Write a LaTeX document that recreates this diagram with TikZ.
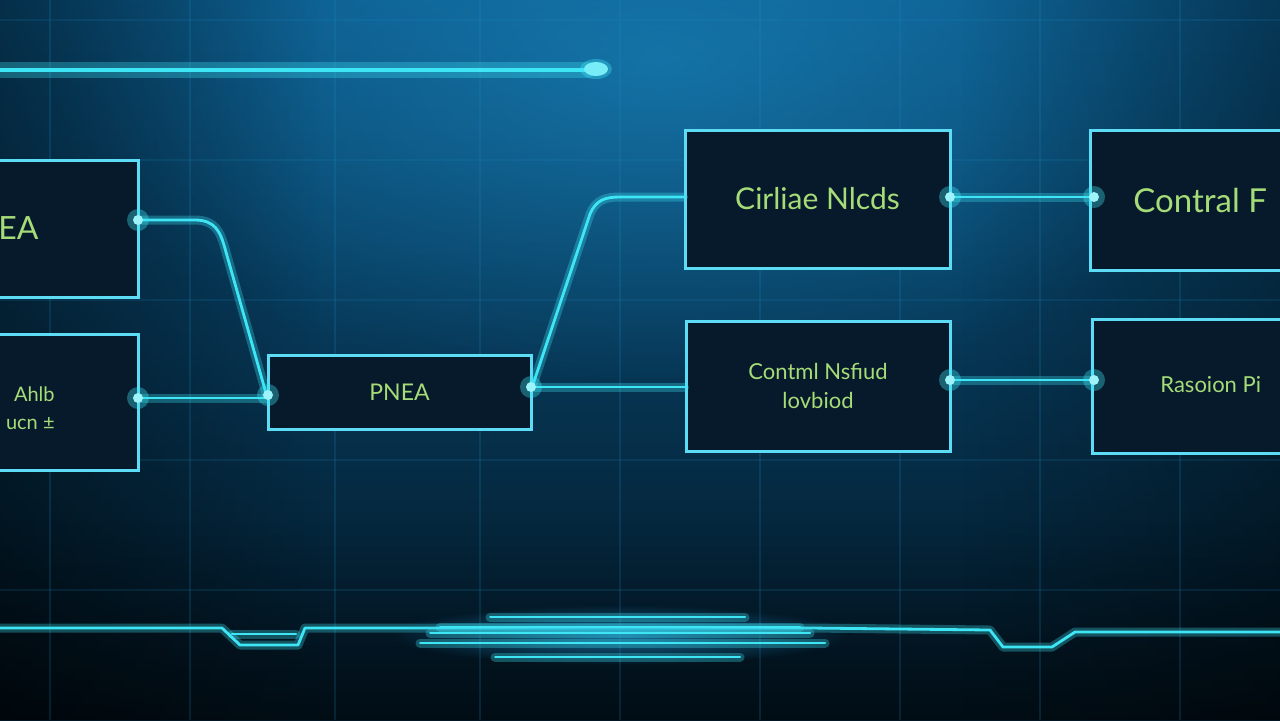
\documentclass[tikz,border=0pt]{standalone}
\usepackage{fontspec}
\setmainfont{Lato}
\usetikzlibrary{fadings}
\definecolor{bgtop}{HTML}{0A5686}
\definecolor{bgbot}{HTML}{031623}
\definecolor{glowc}{HTML}{1E8FC8}
\definecolor{boxfill}{HTML}{071A2C}
\definecolor{boxline}{HTML}{5CDDF5}
\definecolor{wire}{HTML}{3EE6F5}
\definecolor{txt}{HTML}{A5DC78}
\tikzfading[name=softglow, inner color=transparent!0, outer color=transparent!100]
\tikzset{
  panel/.style={draw=boxline, line width=1.5pt, fill=boxfill, inner sep=0pt},
  lbl/.style={text=txt, inner sep=0pt, align=center},
  wirehalo/.style={draw=wire, line width=4.5pt, draw opacity=0.3, line cap=round, line join=round},
  wirecore/.style={draw=wire, line width=1.4pt, line cap=round, line join=round},
  dothalo/.style={fill=wire, fill opacity=0.35},
  dotcore/.style={fill=wire!50!white},
}
\begin{document}
\begin{tikzpicture}[x=0.5pt, y=-0.5pt]
\useasboundingbox (0,0) rectangle (1280,720);
\clip (0,0) rectangle (1280,720);
% background
\shade[top color=bgtop, bottom color=bgbot] (0,0) rectangle (1280,720);
\fill[glowc, path fading=softglow, fill opacity=0.55] (660,60) ellipse (620 and 330);
\fill[black, path fading=east, fill opacity=0.45] (0,0) rectangle (320,720);
\fill[black, path fading=west, fill opacity=0.35] (960,0) rectangle (1280,720);
\fill[black, path fading=north, fill opacity=0.4] (0,520) rectangle (1280,720);
% grid
\foreach \gx in {50,190,335,480,620,760,900,1040,1180}
  \draw[glowc, line width=0.6pt, draw opacity=0.18] (\gx,0) -- (\gx,720);
\foreach \gy in {20,160,300,460,590}
  \draw[glowc, line width=0.6pt, draw opacity=0.14] (0,\gy) -- (1280,\gy);

% top line
\coordinate (tl0) at (0,70);
\coordinate (tl1) at (588,70);
\draw[wirehalo, line width=8pt] (tl0) -- (tl1);
\draw[wirecore, line width=2.4pt] (tl0) -- (tl1);
\fill[wire, fill opacity=0.35] (596,69) ellipse (16 and 10);
\fill[wire!70!white] (596,69) ellipse (12 and 7);

% boxes
\node[panel, minimum width=134pt, minimum height=68.5pt] (A) at (4,228.5) {};
\node[lbl, font=\fontsize{16}{18}\selectfont, anchor=east] (At) at (39,228) {EA};
\node[panel, minimum width=134pt, minimum height=68pt] (B) at (4,402) {};
\node[lbl, font=\fontsize{10}{14}\selectfont, align=right, anchor=east] (Bt) at (55,408) {Ahlb\\ucn ±};
\node[panel, minimum width=131.5pt, minimum height=37pt, lbl, font=\fontsize{11.5}{13}\selectfont] (P) at (399.5,392) {PNEA};
\node[panel, minimum width=132.5pt, minimum height=69pt, lbl, font=\fontsize{15}{17}\selectfont] (C1) at (817.5,199) {Cirliae Nlcds};
\node[panel, minimum width=132pt, minimum height=65pt, lbl, font=\fontsize{11}{14.5}\selectfont] (C2) at (818,386) {Contml Nsfiud\\lovbiod};
\node[panel, minimum width=135pt, minimum height=70pt] (R1) at (1225,200) {};
\node[lbl, font=\fontsize{16.5}{18}\selectfont, anchor=west] (R1t) at (1133,200) {Contral F};
\node[panel, minimum width=134pt, minimum height=67pt] (R2) at (1226,386) {};
\node[lbl, font=\fontsize{11}{13}\selectfont, anchor=west] (R2t) at (1160,385) {Rasoion Pi};

% connectors
\foreach \s in {wirehalo, wirecore}{
  \draw[\s] (A.east |- 0,220) -- (195,220) .. controls (215,220) and (220,232) .. (224,245) -- (P.west |- 0,395);
  \draw[\s] (B.east |- 0,398) -- (P.west |- 0,398);
  \draw[\s] (P.east |- 0,386) -- (590,214) .. controls (596,200) and (605,197) .. (620,197) -- (C1.west |- 0,197);
  \draw[\s] (P.east |- 0,387) -- (C2.west |- 0,387);
  \draw[\s] (C1.east |- 0,197) -- (R1.west |- 0,197);
  \draw[\s] (C2.east |- 0,380) -- (R2.west |- 0,380);
}
% glow dots
\foreach \px/\py in {138/220, 138/398, 268/395, 531/387, 950/197, 1094/197, 950/380, 1094/380}{
  \fill[dothalo] (\px,\py) circle (11);
  \fill[dotcore] (\px,\py) circle (5);
}

% bottom circuit line
\coordinate (b0) at (0,628);
\coordinate (b9) at (1280,632);
\foreach \s in {wirehalo, wirecore}{
  \draw[\s] (b0) -- (222,628) -- (240,645) -- (298,645) -- (305,628) -- (810,628) -- (990,630) -- (1003,647) -- (1052,647) -- (1075,632) -- (b9);
  \draw[\s] (232,634) -- (296,634);
}
% streaks
\fill[glowc, path fading=softglow, fill opacity=0.7] (620,635) ellipse (230 and 30);
\foreach \xa/\xb/\yy in {490/745/617, 440/800/627, 430/810/633, 420/825/643, 495/740/657}{
  \draw[wirehalo] (\xa,\yy) -- (\xb,\yy);
  \draw[wirecore, line width=1pt] (\xa,\yy) -- (\xb,\yy);
}
\end{tikzpicture}
\end{document}
